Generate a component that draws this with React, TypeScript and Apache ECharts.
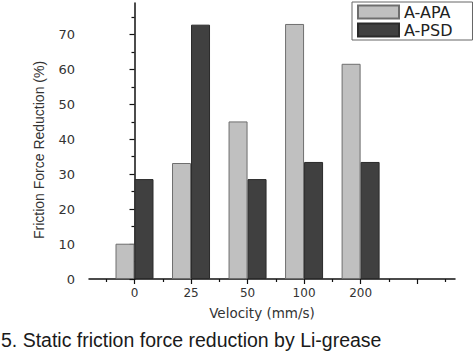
import React, { useEffect, useRef } from "react";
import * as echarts from "echarts";

const velocities = ["0", "25", "50", "100", "200"];
const apaValues = [10.1, 33.2, 45.1, 73.0, 61.6];
const psdValues = [28.6, 72.8, 28.6, 33.5, 33.5];
const yLabels = [0, 10, 20, 30, 40, 50, 60, 70];
const yMinor = [5, 15, 25, 35, 45, 55, 65, 75];
const xMajor = [0, 1, 2, 3, 4, 5];
const xMinor = [-0.5, 0.5, 1.5, 2.5, 3.5, 4.5, 5.5];

export default function App() {
  const ref = useRef<HTMLDivElement>(null);
  useEffect(() => {
    if (!ref.current) return;
    const chart = echarts.init(ref.current, null, { renderer: "svg" });
    const axisLine = { show: true, lineStyle: { color: "#111", width: 1.5 } };
    const tickFont = { fontFamily: "DejaVu Sans", fontSize: 12, color: "#333" };
    chart.setOption({
      animation: false,
      backgroundColor: "#fff",
      grid: { left: 89, right: 19, top: 3, bottom: 72, containLabel: false },
      legend: {
        orient: "vertical",
        left: 352,
        top: 2,
        icon: "rect",
        itemWidth: 41,
        itemHeight: 13,
        itemGap: 2,
        padding: [2, 20, 2, 5],
        borderColor: "#666",
        borderWidth: 1,
        textStyle: { fontFamily: "DejaVu Sans", fontSize: 16, color: "#222" },
        data: ["A-APA", "A-PSD"],
      },
      xAxis: [
        {
          type: "value",
          min: -0.805,
          max: 5.67,
          position: "bottom",
          axisLine,
          splitLine: { show: false },
          axisTick: { show: true, length: 5, inside: false, customValues: xMajor, lineStyle: { color: "#111", width: 1.2 } },
          axisLabel: {
            show: true,
            customValues: [0, 1, 2, 3, 4],
            margin: 8,
            formatter: (v: number) => velocities[Math.round(v)] ?? "",
            ...tickFont,
          },
          name: "Velocity (mm/s)",
          nameLocation: "middle",
          nameGap: 27,
          nameTextStyle: { fontFamily: "DejaVu Sans", fontSize: 13.5, color: "#333", padding: [0, 20, 0, 0] },
        },
        {
          type: "value",
          min: -0.805,
          max: 5.67,
          position: "bottom",
          axisLine: { show: false },
          splitLine: { show: false },
          axisTick: { show: true, length: 3, inside: false, customValues: xMinor, lineStyle: { color: "#111", width: 1.2 } },
          axisLabel: { show: false },
        },
      ],
      yAxis: [
        {
          type: "value",
          min: 0,
          max: 79,
          axisLine,
          splitLine: { show: false },
          axisTick: { show: true, length: 5, inside: false, customValues: yLabels, lineStyle: { color: "#111", width: 1.2 } },
          axisLabel: { show: true, customValues: yLabels, margin: 14, ...tickFont, fontSize: 13 },
          name: "Friction Force Reduction (%)",
          nameLocation: "middle",
          nameGap: 43,
          nameTextStyle: { fontFamily: "Liberation Sans", fontSize: 14, color: "#333", padding: [0, 18, 0, 0] },
        },
        {
          type: "value",
          min: 0,
          max: 79,
          position: "left",
          axisLine: { show: false },
          splitLine: { show: false },
          axisTick: { show: true, length: 3, inside: false, customValues: yMinor, lineStyle: { color: "#111", width: 1.2 } },
          axisLabel: { show: false },
        },
      ],
      series: [
        {
          name: "A-APA",
          type: "bar",
          xAxisIndex: 0,
          yAxisIndex: 0,
          barWidth: 19,
          barGap: "0%",
          itemStyle: { color: "#c0c0c0", borderColor: "#6e6e6e", borderWidth: 1 },
          data: apaValues.map((v, i) => [i, v]),
        },
        {
          name: "A-PSD",
          type: "bar",
          xAxisIndex: 0,
          yAxisIndex: 0,
          barWidth: 19,
          barGap: "0%",
          itemStyle: { color: "#404040", borderColor: "#2a2a2a", borderWidth: 1 },
          data: psdValues.map((v, i) => [i, v]),
        },
      ],
      graphic: [
        {
          type: "text",
          left: 1,
          top: 330,
          style: {
            text: "5. Static friction force reduction by Li-grease",
            fontFamily: "Liberation Sans",
            fontSize: 19.5,
            fill: "#1a1a1a",
          },
        },
      ],
    });
    return () => chart.dispose();
  }, []);
  return <div ref={ref} style={{ width: 474, height: 351, position: "absolute", left: 0, top: 0 }} />;
}
